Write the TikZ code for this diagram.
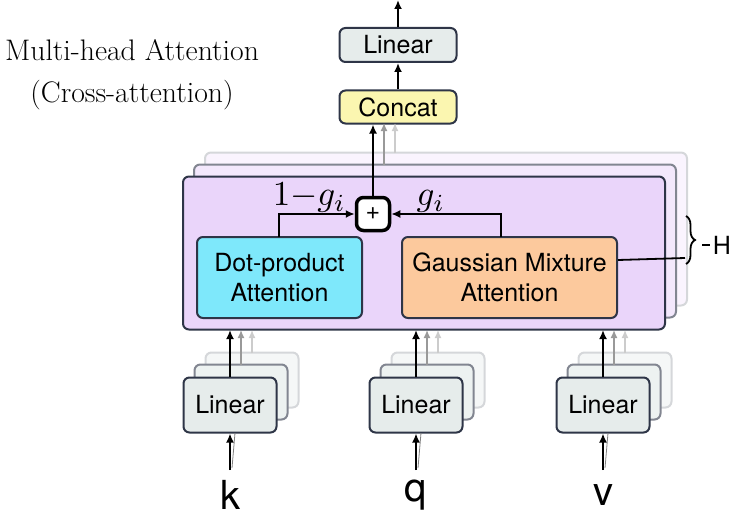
\documentclass[tikz,border=0pt]{standalone}
\usepackage{fontspec}
\newfontfamily\sansf{TeX Gyre Heros}
\usetikzlibrary{arrows.meta,decorations.pathreplacing}
\definecolor{lin}{HTML}{E6ECEB}
\definecolor{edge}{HTML}{2E3547}
\definecolor{purp}{HTML}{EAD5FA}
\definecolor{cyanb}{HTML}{7EE8FB}
\definecolor{orab}{HTML}{FCC99D}
\definecolor{yel}{HTML}{FBF6B0}
\begin{document}
\begin{tikzpicture}[x=1pt,y=-1pt,
 box/.style={draw=edge,line width=2pt,rounded corners=6pt,inner sep=0pt,font=\sansf\fontsize{25}{30}\selectfont,align=center},
 arr/.style={-{Latex[length=9pt,width=8pt]},line width=1.8pt},
 garr/.style={-{Latex[length=8pt,width=7pt]},line width=1.4pt}]
\useasboundingbox (0,0) rectangle (738,524);
% title
\node (t1) at (132,50) {\scalebox{1.1}{\fontsize{27}{30}\selectfont Multi-head Attention}};
\node (t2) at (132,95) {\scalebox{1.1}{\fontsize{27}{30}\selectfont (Cross-attention)}};
% top
\node[box,fill=lin,minimum width=117pt,minimum height=34pt] (lin) at (398,45) {Linear};
\node[box,fill=yel,minimum width=117pt,minimum height=33pt] (cat) at (398,107) {Concat};
\coordinate (out) at (398,0);
\draw[arr] (lin.north) -- (out);
\draw[arr] (cat.north) -- (lin.south);
% shadow heads
\node[box,draw=edge!20,fill=purp!25,minimum width=482pt,minimum height=153pt] (sh2) at (446,229) {};
\node[box,draw=edge!60,fill=purp!55,minimum width=482pt,minimum height=153pt] (sh1) at (435,241) {};
\draw[garr,draw=gray!40] (395,153) -- (395,123);
\draw[garr,draw=gray!80] (384,165) -- (384,123);
% main
\node[box,fill=purp,minimum width=482pt,minimum height=153pt] (main) at (424,253) {};
\node[box,fill=cyanb,minimum width=165pt,minimum height=81pt] (dot) at (279.5,277.5) {Dot-product\\Attention};
\node[box,fill=orab,minimum width=215pt,minimum height=81pt] (gau) at (509.5,277.5) {Gaussian Mixture\\Attention};
\node[draw=black,line width=3.5pt,rounded corners=7pt,fill=white,minimum width=33pt,minimum height=33pt,inner sep=0pt] (plus) at (373,214) {\scalebox{2.5}{\sansf +}};
\draw[arr] (plus.north) -- (plus.north |- cat.south);
\draw[arr] (279,237) |- (plus.west) node[pos=0.7,above=-3pt] {\scalebox{3.5}{$1{-}g_i$}};
\draw[arr] (501,237) |- (plus.east) node[pos=0.82,above=-3pt] {\scalebox{3.5}{$g_i$}};
% brace
\draw[line width=1.8pt] (gau.east |- 0,260) -- (685,258);
\draw[line width=1.8pt,decorate,decoration={brace,amplitude=9pt}] (686,216) -- (686,264);
\node[font=\sansf\fontsize{25}{25}\selectfont] (H) at (722,245) {H};
\draw[line width=1.4pt] (702,245) -- (710,245);
% linears
\foreach \n/\x/\l in {k/230/k,q/416/q,v/603/v}{
 \node[box,draw=edge!20,fill=lin!40,minimum width=93pt,minimum height=55pt] (\n s2) at (\x+22,380) {};
 \node[box,draw=edge!60,fill=lin!70,minimum width=93pt,minimum height=55pt] (\n s1) at (\x+11,392) {};
 \draw[garr,draw=gray!40] (\x+22,353) -- (\x+22,330);
 \draw[garr,draw=gray!80] (\x+11,365) -- (\x+11,330);
 \node[box,fill=lin,minimum width=93pt,minimum height=55pt] (\n L) at (\x,405) {Linear};
 \draw[arr] (\n L.north) -- (\x,330);
 \node[font=\sansf\fontsize{40}{40}\selectfont] (\n in) at (\x,495) {\l};
 \coordinate (\n b) at (\x,470);
 \draw[arr] (\n b) -- (\n L.south);
 \draw[line width=0.8pt,gray] (\x+2,468) -- (\x+5,433);
}
\end{tikzpicture}
\end{document}
